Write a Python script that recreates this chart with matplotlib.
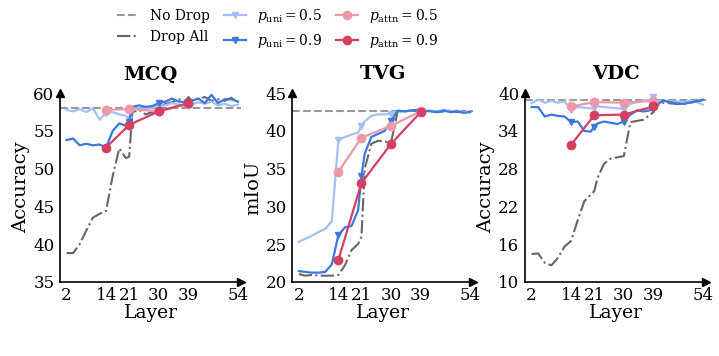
import numpy as np
import matplotlib
matplotlib.use("Agg")
import matplotlib.pyplot as plt

plt.rcParams["font.family"] = "DejaVu Serif"
plt.rcParams["mathtext.fontset"] = "dejavuserif"

layers = [2, 4, 6, 8, 10, 12, 14, 16, 18, 20, 21, 22, 24, 26, 28, 30, 32,
          34, 36, 38, 39, 40, 42, 44, 46, 48, 50, 52, 54]
attn_layers = [14, 21, 30, 39]
x_ticks = [2, 14, 21, 30, 39, 54]
tasks = ["MCQ", "TVG", "VDC"]
y_labels = ["Accuracy", "mIoU", "Accuracy"]

# MCQ
mcq_no_drop = 58.0
mcq_drop_all = [38.8, 38.8, 40.0, 41.8, 43.5, 44.0, 44.4, 49.0, 52.7, 51.4, 51.6,
                57.5, 57.8, 57.2, 57.5, 58.0, 58.6, 58.8, 59.2, 59.0, 59.5, 59.0,
                59.3, 59.5, 59.0, 59.2, 59.0, 59.4, 58.8]
mcq_uni_05 = [57.8, 57.6, 57.9, 57.5, 58.0, 56.5, 57.4, 57.5, 57.2, 57.0, 56.6,
              58.2, 58.0, 57.9, 58.1, 58.3, 58.4, 58.7, 58.5, 58.3, 58.5, 58.5,
              58.8, 58.6, 58.9, 58.4, 58.6, 58.3, 58.5]
mcq_uni_09 = [53.8, 54.0, 53.1, 53.3, 53.1, 53.2, 52.8, 55.0, 56.0, 55.7, 56.2,
              58.2, 58.4, 58.2, 58.3, 58.7, 58.9, 59.3, 58.9, 58.8, 58.7, 59.0,
              59.3, 58.7, 59.8, 58.7, 59.2, 59.2, 58.9]
mcq_attn_05 = [57.8, 57.9, 57.6, 58.6]
mcq_attn_09 = [52.8, 55.8, 57.6, 58.7]

# TVG
tvg_no_drop = 42.6
tvg_drop_all = [21.0, 20.8, 20.9, 20.8, 20.8, 20.8, 20.9, 22.2, 24.2, 25.0, 26.0,
                35.0, 38.3, 38.7, 38.6, 38.5, 42.6, 42.6, 42.7, 42.6, 42.6, 42.7,
                42.6, 42.5, 42.6, 42.7, 42.5, 42.6, 42.5]
tvg_uni_05 = [25.3, 25.7, 26.1, 26.6, 27.0, 28.0, 38.8, 39.2, 39.5, 39.8, 40.6,
              41.3, 42.0, 42.2, 42.2, 42.3, 42.6, 42.6, 42.7, 42.8, 42.7, 42.6,
              42.7, 42.6, 42.8, 42.6, 42.7, 42.5, 42.6]
tvg_uni_09 = [21.4, 21.3, 21.2, 21.2, 21.3, 22.3, 26.2, 27.2, 27.4, 29.5, 34.0,
              37.0, 39.2, 39.6, 40.0, 41.3, 42.7, 42.6, 42.7, 42.8, 42.6, 42.7,
              42.6, 42.5, 42.7, 42.5, 42.6, 42.4, 42.5]
tvg_attn_05 = [34.6, 39.1, 40.7, 42.6]
tvg_attn_09 = [22.9, 33.1, 38.3, 42.5]

# VDC
vdc_no_drop = 39.0
vdc_drop_all = [14.4, 14.5, 13.0, 12.6, 13.8, 15.6, 16.5, 19.8, 22.8, 23.9, 24.4,
                26.5, 28.8, 29.6, 29.8, 30.0, 35.4, 35.6, 35.8, 36.6, 37.0, 38.0,
                38.5, 38.4, 38.3, 38.3, 38.5, 38.7, 38.9]
vdc_uni_05 = [38.4, 39.0, 38.5, 38.8, 38.5, 38.7, 37.4, 37.8, 37.7, 37.6, 37.6,
              37.9, 37.8, 37.7, 37.6, 37.5, 38.3, 38.6, 38.8, 39.0, 39.4, 38.8,
              38.7, 38.8, 38.7, 38.6, 38.8, 38.6, 38.2]
vdc_uni_09 = [37.8, 37.8, 36.3, 36.6, 36.4, 36.3, 35.4, 35.5, 34.0, 33.9, 34.7,
              35.2, 35.5, 35.3, 35.1, 35.5, 36.6, 37.3, 37.1, 37.3, 37.5, 38.2,
              38.8, 38.6, 38.4, 38.3, 38.5, 38.7, 39.0]
vdc_attn_05 = [37.9, 38.6, 38.5, 38.8]
vdc_attn_09 = [31.8, 36.5, 36.6, 37.9]

no_drop = [mcq_no_drop, tvg_no_drop, vdc_no_drop]
drop_all = [mcq_drop_all, tvg_drop_all, vdc_drop_all]
uni_05 = [mcq_uni_05, tvg_uni_05, vdc_uni_05]
uni_09 = [mcq_uni_09, tvg_uni_09, vdc_uni_09]
attn_05 = [mcq_attn_05, tvg_attn_05, vdc_attn_05]
attn_09 = [mcq_attn_09, tvg_attn_09, vdc_attn_09]
y_ranges = [(35, 60), (20, 45), (10, 40)]
y_ticks = [np.arange(35, 61, 5), np.arange(20, 46, 5), np.arange(10, 41, 6)]

c_light_blue = "#a3c0f5"
c_blue = "#3b78e0"
c_pink = "#ee98a8"
c_red = "#d43f62"

mark_idx = [layers.index(l) for l in attn_layers]

fig = plt.figure(figsize=(7.19, 3.56), dpi=100)
lefts = [0.0834, 0.4065, 0.7302]
axes = [fig.add_axes([l, 0.2087, 0.252, 0.5293]) for l in lefts]

for i, ax in enumerate(axes):
    ax.axhline(no_drop[i], color="#999999", ls="--", lw=1.5, label="No Drop")
    ax.plot(layers, drop_all[i], color="#666666", ls="-.", lw=1.5, label="Drop All")
    ax.plot(layers, uni_05[i], color=c_light_blue, lw=1.6, marker="v",
            markevery=mark_idx, ms=5, label=r"$p_{\rm uni}=0.5$")
    ax.plot(layers, uni_09[i], color=c_blue, lw=1.6, marker="v",
            markevery=mark_idx, ms=5, label=r"$p_{\rm uni}=0.9$")
    ax.plot(attn_layers, attn_05[i], color=c_pink, lw=1.6, marker="o", ms=6,
            label=r"$p_{\rm attn}=0.5$")
    ax.plot(attn_layers, attn_09[i], color=c_red, lw=1.6, marker="o", ms=6,
            label=r"$p_{\rm attn}=0.9$")

    ax.set_xlim(0, 55)
    ax.set_ylim(*y_ranges[i])
    ax.set_xticks(x_ticks)
    ax.set_yticks(y_ticks[i])
    ax.tick_params(length=0, labelsize=12, pad=4)
    ax.spines["top"].set_visible(False)
    ax.spines["right"].set_visible(False)
    ax.spines["left"].set_linewidth(1.2)
    ax.spines["bottom"].set_linewidth(1.2)
    # arrow heads at the ends of the axes
    ax.plot(1, 0, ">k", ms=6, transform=ax.transAxes, clip_on=False)
    ax.plot(0, 1, "^k", ms=6, transform=ax.transAxes, clip_on=False)
    ax.set_title(tasks[i], fontsize=14, fontweight="bold", pad=10)
    ax.set_xlabel("Layer", fontsize=13.5, labelpad=0)
    ax.set_ylabel(y_labels[i], fontsize=14, labelpad=2)

handles, labels = axes[0].get_legend_handles_labels()
fig.legend(handles, labels, loc="upper left", bbox_to_anchor=(0.145, 1.015),
           ncol=3, frameon=False, fontsize=10, handlelength=1.6,
           columnspacing=1.0, labelspacing=0.5)

fig.savefig("out.png", dpi=100)
